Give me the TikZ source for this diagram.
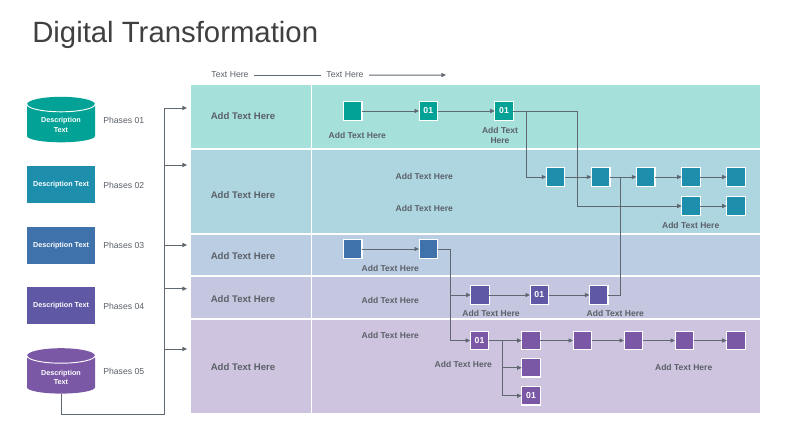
\documentclass[tikz,border=0pt]{standalone}
\usepackage{fontspec}
\setmainfont{Liberation Sans}
\usetikzlibrary{arrows.meta}
\definecolor{teal1}{HTML}{02A396}
\definecolor{blue2}{HTML}{1D8FAD}
\definecolor{blue3}{HTML}{3F72AA}
\definecolor{violet4}{HTML}{5F58A4}
\definecolor{violet5}{HTML}{7B58A6}
\definecolor{inkgray}{HTML}{5A6068}
\definecolor{wiregray}{HTML}{5F6870}
\tikzstyle{wire} = [draw=wiregray, line width=0.72pt]
\tikzstyle{link} = [wire, -{Triangle[length=3.4pt,width=3pt]}]
\tikzstyle{cell} = [draw=white, line width=0.8pt, minimum size=13.9pt, inner sep=0pt, outer sep=0pt, text=white, font=\fontsize{6.5}{7}\selectfont\bfseries]
\tikzstyle{descbox} = [minimum width=51.7pt, minimum height=28pt, inner sep=0pt, text=white, font=\fontsize{5.4}{7}\selectfont\bfseries]
\tikzstyle{desctext} = [inner sep=0pt, align=center, text=white, font=\fontsize{5.4}{7}\selectfont\bfseries]
\tikzstyle{addtext} = [inner sep=0pt, yshift=-0.4pt, align=center, text=inkgray, font=\fontsize{6.4}{7.7}\selectfont\bfseries]
\tikzstyle{rowtext} = [addtext, font=\fontsize{7.2}{8}\selectfont\bfseries]
\tikzstyle{phase} = [inner sep=0pt, yshift=-0.4pt, anchor=west, text=inkgray, font=\fontsize{6.5}{8}\selectfont]

\begin{document}
\begin{tikzpicture}[x=0.75pt,y=-0.75pt]

	\useasboundingbox (0,0) rectangle (794,443);

	\node[inner sep=0pt,anchor=west,text=black!75,font=\fontsize{22}{26}\selectfont] (title) at (32,34.5) {Digital Transformation};

	\node[phase,anchor=center] (top1) at (230,74.5) {Text Here};
	\node[phase,anchor=center] (top2) at (345,74.5) {Text Here};
	\coordinate (topend) at (446,75.03);
	\draw[wire,shorten <=4pt,shorten >=4pt] (top1) -- (top2);
	\draw[link,shorten <=4pt] (top2) -- (topend);

	\foreach \ytop/\ybot/\col in {85/149/A6E0DB,149/234/AED6E0,234/276/BBCDE2,276/319/C5C6DF,319/413/CFC4DF}{
		\definecolor{rowcol}{HTML}{\col}
		\fill[rowcol] (191,\ytop) rectangle (760,\ybot);
	}
	\foreach \y in {149,234,276,319}
		\draw[white,line width=0.9pt] (191,\y) -- (760,\y);
	\draw[white,line width=0.9pt] (311.5,85) -- (311.5,413);

	\foreach \ytop/\ybot/\col in {104.3/136/teal1,355.7/387.3/violet5}{
		\fill[\col] (27,\ytop) arc[start angle=180,end angle=0,x radius=34,y radius=-7.5]
			-- (95,\ybot) arc[start angle=0,end angle=180,x radius=34,y radius=6.3] -- cycle;
		\draw[white,line width=0.7pt] (27,\ytop) arc[start angle=180,end angle=0,x radius=34,y radius=7.5];
	}
	\coordinate (desc5bottom) at (61,393.6);
	\node[descbox,fill=blue2] (desc2) at (61,184.5) {Description Text};
	\node[descbox,fill=blue3] (desc3) at (61,245.5) {Description Text};
	\node[descbox,fill=violet4] (desc4) at (61,305.5) {Description Text};
	\node[desctext] (desc1) at (61,125) {Description\\Text};
	\node[desctext] (desc5) at (61,377.5) {Description\\Text};

	\foreach \i/\y in {1/119.5,2/185,3/245,4/306,5/370.7}
		\node[phase] (phase\i) at (103,\y) {Phases 0\i};

	\coordinate (trunktop) at (164,108);
	\coordinate (trunkbot) at (164,414);
	\coordinate (underdesc) at (61,414);
	\draw[wire] (desc5bottom) -- (underdesc) -- (trunkbot) -- (trunktop);
	\foreach \i/\y in {1/108,2/165,3/245,4/288.7,5/349}{
		\coordinate (from\i) at (164,\y);
		\coordinate (to\i) at (187,\y);
		\draw[link] (from\i) -- (to\i);
	}

	\foreach \name/\x/\y/\col/\lab in {
		a1/352.7/111/teal1/,a2/428.3/111/teal1/01,a3/504/111/teal1/01,
		b1/555.6/177/blue2/,b2/600.7/177/blue2/,b3/645.7/177/blue2/,b4/691/177/blue2/,b5/736/177/blue2/,
		b6/691/206/blue2/,b7/736/206/blue2/,
		c1/352.7/249/blue3/,c2/428.3/249/blue3/,
		d1/480/295/violet4/,d2/539.3/295/violet4/01,d3/598.7/295/violet4/,
		e1/479.5/340.5/violet5/01,e2/531/340.5/violet5/,e3/582.3/340.5/violet5/,e4/633.3/340.5/violet5/,e5/684.3/340.5/violet5/,e6/736/340.5/violet5/,
		e7/531/367.7/violet5/,e8/531/395.7/violet5/01}
		\node[cell,fill=\col] (\name) at (\x,\y) {\lab};

	\coordinate (jointa) at (526.7,111);
	\coordinate (jointb) at (577,111);
	\coordinate (jointc) at (620.7,177);
	\coordinate (jointd) at (450,249);
	\coordinate (jointe) at (450,295);
	\coordinate (jointf) at (502.3,340.5);

	\foreach \from/\to in {a1/a2,a2/a3,b1/b2,b2/b3,b3/b4,b4/b5,b6/b7,c1/c2,d1/d2,d2/d3,e1/e2,e2/e3,e3/e4,e4/e5,e5/e6}
		\draw[link] (\from) -- (\to);

	\draw[wire] (a3) -- (jointb);
	\draw[link] (jointa) |- (b1);
	\draw[link] (jointb) |- (b6);
	\draw[wire] (d3) -| (jointc);
	\draw[wire] (c2) -- (jointd);
	\draw[link] (jointd) |- (e1);
	\draw[link] (jointe) -- (d1);
	\draw[link] (jointf) |- (e7);
	\draw[link] (jointf) |- (e8);

	\foreach \name/\y in {rowa/115.7,rowb/194.3,rowc/256,rowd/298.7,rowe/366.7}
		\node[rowtext] (\name) at (243,\y) {Add Text Here};

	\foreach \name/\x/\y/\lab in {
		labela/357.3/134.7/Add Text Here,labelb/500/135/{Add Text\\Here},
		labelc/424.3/175.7/Add Text Here,labeld/424.3/208.3/Add Text Here,labele/690.7/224.7/Add Text Here,
		labelf/390.3/267.7/Add Text Here,labelg/390.3/299.7/Add Text Here,labelh/491/313/Add Text Here,labeli/615.3/313.3/Add Text Here,
		labelj/390.3/335/Add Text Here,labelk/463.3/364.3/Add Text Here,labell/683.7/367/Add Text Here}
		\node[addtext] (\name) at (\x,\y) {\lab};

\end{tikzpicture}
\end{document}
